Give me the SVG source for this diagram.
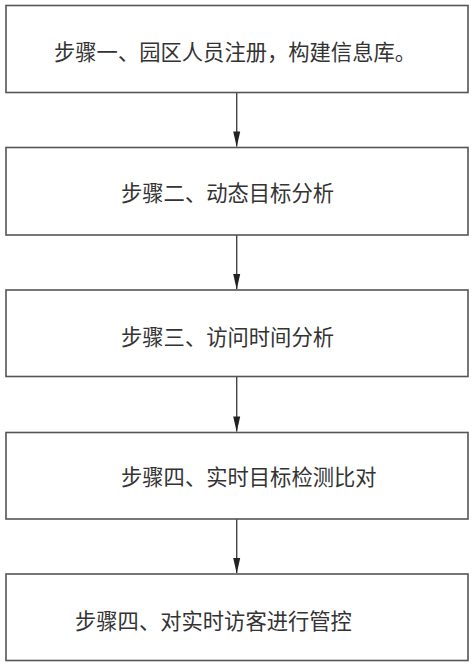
<svg xmlns="http://www.w3.org/2000/svg" width="474" height="667" viewBox="0 0 474 667">
<style>
.box{fill:#fff;stroke:#555;stroke-width:1.6}
.lbl{font-family:"Noto Sans CJK SC","Noto Sans",sans-serif;font-size:21.3px;fill:#333}
.conn{stroke:#444;stroke-width:1.4;fill:none}
.head{fill:#222}
</style>
<rect width="474" height="667" fill="#fff"/>
<g id="connectors">
<line class="conn" x1="236.7" y1="92.5" x2="236.7" y2="146.5"/>
<path class="head" d="M233.2,131.5 L240.2,131.5 L236.7,147 Z"/>
<line class="conn" x1="236.7" y1="235" x2="236.7" y2="289"/>
<path class="head" d="M233.2,274 L240.2,274 L236.7,289.5 Z"/>
<line class="conn" x1="236.7" y1="376.5" x2="236.7" y2="431.5"/>
<path class="head" d="M233.2,416.5 L240.2,416.5 L236.7,432 Z"/>
<line class="conn" x1="236.7" y1="519" x2="236.7" y2="573"/>
<path class="head" d="M233.2,558 L240.2,558 L236.7,573.5 Z"/>
</g>
<g id="step1">
<rect class="box" x="6" y="5.5" width="462" height="87"/>
<text class="lbl" x="54" y="59.5">步骤一、园区人员注册，构建信息库。</text>
</g>
<g id="step2">
<rect class="box" x="6" y="147.5" width="462" height="87.5"/>
<text class="lbl" x="121" y="201">步骤二、动态目标分析</text>
</g>
<g id="step3">
<rect class="box" x="6" y="290" width="462" height="86.5"/>
<text class="lbl" x="121" y="344.5">步骤三、访问时间分析</text>
</g>
<g id="step4">
<rect class="box" x="6" y="432.5" width="462" height="86.5"/>
<text class="lbl" x="121" y="484.5">步骤四、实时目标检测比对</text>
</g>
<g id="step5">
<rect class="box" x="6" y="574" width="462" height="86.5"/>
<text class="lbl" x="75" y="628.5">步骤四、对实时访客进行管控</text>
</g>
</svg>
